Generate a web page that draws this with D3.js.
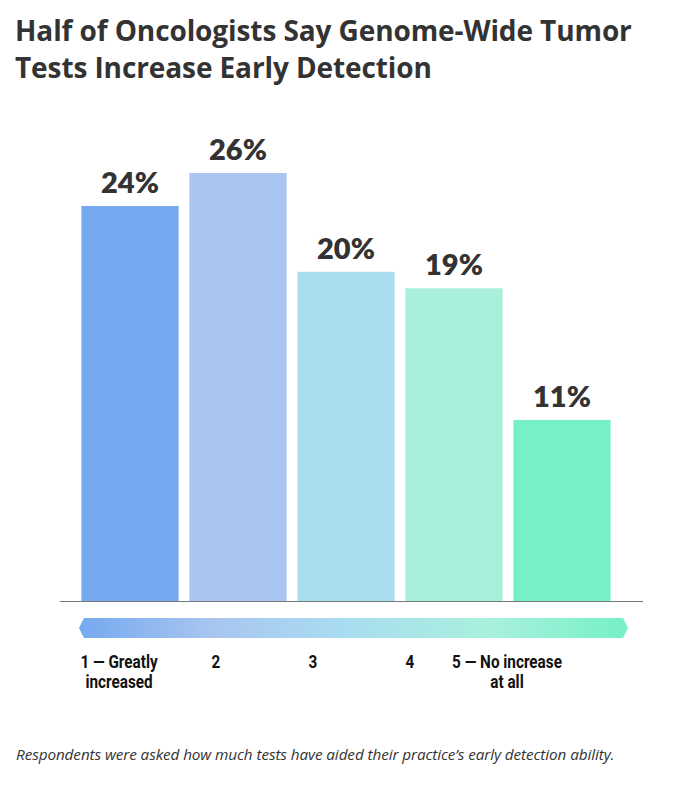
<!DOCTYPE html>
<html>
<head>
<meta charset="utf-8">
<script src="https://cdn.jsdelivr.net/npm/d3@7"></script>
<style>
  body { margin: 0; background: #fff; }
  svg { display: block; }
</style>
</head>
<body>
<svg id="chart"></svg>
<script>
// data
const categories = ["1", "2", "3", "4", "5"];
const values = [24, 26, 20, 19, 11];
const scaleLabels = [
    ["1 \u2014 Greatly", "increased"],
    ["2"],
    ["3"],
    ["4"],
    ["5 \u2014 No increase", "at all"]
];
const barColors = ["#76a9f0", "#a9c6f0", "#a9def0", "#a9f0dc", "#76f0c8"];
const titleLines = [
    "Half of Oncologists Say Genome-Wide Tumor",
    "Tests Increase Early Detection"
];
const note = "Respondents were asked how much tests have aided their practice\u2019s early detection ability.";

const width = 690, height = 792;
const svg = d3.select("#chart").attr("width", width).attr("height", height);

const textColor = "#333333";
const baseY = 601;

// title
svg.append("g").selectAll("text")
    .data(titleLines)
    .enter()
    .append("text")
    .attr("x", 15)
    .attr("y", (d, i) => 41 + i * 37)
    .attr("fill", textColor)
    .attr("font-family", "'Open Sans', Lato, sans-serif")
    .attr("font-weight", 700)
    .attr("font-size", "28px")
    .attr("letter-spacing", "-0.1px")
    .text(d => d);

const x = d3.scaleBand()
    .domain(categories)
    .range([76, 616])
    .paddingInner(0.1)
    .paddingOuter(0.05);

// 16.46 px per percentage point, zero at the baseline
const y = d3.scaleLinear()
    .domain([0, 26])
    .range([baseY, baseY - 26 * 16.46]);

svg.append("g").selectAll("rect")
    .data(values)
    .enter()
    .append("rect")
    .attr("x", (d, i) => x(categories[i]))
    .attr("y", d => y(d))
    .attr("width", x.bandwidth())
    .attr("height", d => baseY - y(d))
    .attr("fill", (d, i) => barColors[i]);

svg.append("g").selectAll("text")
    .data(values)
    .enter()
    .append("text")
    .attr("x", (d, i) => x(categories[i]) + x.bandwidth() / 2)
    .attr("y", d => y(d) - 13)
    .attr("text-anchor", "middle")
    .attr("fill", textColor)
    .attr("font-family", "Lato, 'Open Sans', sans-serif")
    .attr("font-weight", 800)
    .attr("font-size", "29px")
    .text(d => d + "%");

// baseline
svg.append("line")
    .attr("x1", 60).attr("x2", 643)
    .attr("y1", baseY + 0.5).attr("y2", baseY + 0.5)
    .attr("stroke", "#777")
    .attr("stroke-width", 1);

// gradient scale arrow
const defs = svg.append("defs");
const grad = defs.append("linearGradient").attr("id", "scaleGrad");
grad.selectAll("stop")
    .data(barColors)
    .enter()
    .append("stop")
    .attr("offset", (d, i) => (i / (barColors.length - 1) * 100) + "%")
    .attr("stop-color", d => d);

const ax0 = 79, ax1 = 628, ay0 = 618, ay1 = 638, tip = 5;
const arrow = d3.path();
arrow.moveTo(ax0, (ay0 + ay1) / 2);
arrow.lineTo(ax0 + tip, ay0);
arrow.lineTo(ax1 - tip, ay0);
arrow.lineTo(ax1, (ay0 + ay1) / 2);
arrow.lineTo(ax1 - tip, ay1);
arrow.lineTo(ax0 + tip, ay1);
arrow.closePath();
svg.append("path")
    .attr("d", arrow.toString())
    .attr("fill", "url(#scaleGrad)");

// scale labels (evenly spread under the arrow, not under the bars)
const lx = d3.scalePoint()
    .domain(categories)
    .range([119, 507]);

// condensed look: Roboto bold squeezed horizontally
const lab = svg.append("g").selectAll("text")
    .data(scaleLabels)
    .enter()
    .append("text")
    .attr("transform", (d, i) => `translate(${lx(categories[i])},668) scale(0.85,1)`)
    .attr("text-anchor", "middle")
    .attr("fill", "#111")
    .attr("font-family", "Roboto, sans-serif")
    .attr("font-weight", 700)
    .attr("font-size", "18px");

lab.selectAll("tspan")
    .data(d => d)
    .enter()
    .append("tspan")
    .attr("x", 0)
    .attr("dy", (d, i) => i === 0 ? 0 : 20)
    .text(d => d);

// footnote
svg.append("text")
    .attr("x", 16)
    .attr("y", 760)
    .attr("fill", textColor)
    .attr("font-family", "'Open Sans', Lato, sans-serif")
    .attr("font-style", "italic")
    .attr("font-size", "15.3px")
    .attr("letter-spacing", "-0.1px")
    .text(note);
</script>
</body>
</html>
